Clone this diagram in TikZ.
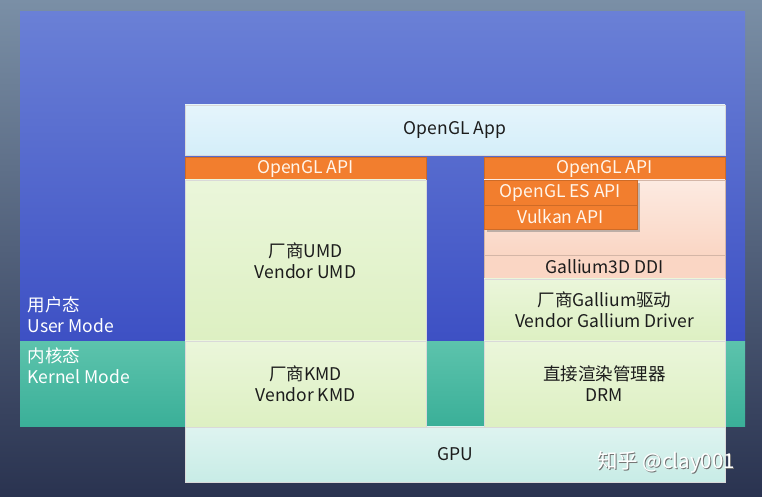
\documentclass[tikz,border=0pt]{standalone}
\usepackage{fontspec}
\setmainfont{Noto Sans CJK SC}
\usetikzlibrary{positioning,shadows}

\definecolor{bgtop}{HTML}{7A8FA6}
\definecolor{bgbot}{HTML}{2A3350}
\definecolor{usertop}{HTML}{6A80D6}
\definecolor{userbot}{HTML}{3D50C4}
\definecolor{kerntop}{HTML}{5CC3AC}
\definecolor{kernbot}{HTML}{3AAF98}
\definecolor{appcol}{HTML}{D4EEF9}
\definecolor{apicol}{HTML}{F27E2E}
\definecolor{drvcol}{HTML}{DDF0C2}
\definecolor{ddicol}{HTML}{FAD6C4}
\definecolor{gpucol}{HTML}{C8ECE6}
\definecolor{txtcol}{HTML}{1C1C1C}

\tikzset{
  layer/.style={draw=white!70!gray, line width=0.6pt, inner sep=0pt,
                text=txtcol, align=center, font=\fontsize{17.5}{21}\selectfont},
  api/.style={layer, fill=apicol, draw=apicol!85!black, text=orange!8!white},
  drv/.style={layer, top color=drvcol!60!white, bottom color=drvcol},
  ddi/.style={layer, fill=ddicol, draw=ddicol!85!black},
  modelbl/.style={text=white, align=left, anchor=north west,
                  font=\fontsize{17.5}{21}\selectfont}
}

\begin{document}
\begin{tikzpicture}[x=1pt,y=1pt]
	% background and the two modes
	\shade[top color=bgtop, bottom color=bgbot] (0,0) rectangle (762,497);
	\shade[top color=usertop, bottom color=userbot] (20,155) rectangle (745,485);
	\shade[top color=kerntop, bottom color=kernbot] (20,70) rectangle (745,155);

	\node[modelbl] (user) at (24,204) {用户态\\User Mode};
	\node[modelbl] (kernel) at (24,153) {内核态\\Kernel Mode};

	% common layers
	\node[layer, top color=appcol!60!white, bottom color=appcol,
		  minimum width=540, minimum height=50] (app) at (455,367) {OpenGL App};
	\node[layer, top color=gpucol!60!white, bottom color=gpucol,
		  minimum width=540, minimum height=55] (gpu) at (455,42.5) {GPU};

	% vendor stack
	\node[api, minimum width=241, minimum height=23] (apiL) at (305.5,328.5) {OpenGL API};
	\node[drv, minimum width=241, minimum height=161] (umd) at (305.5,236.5) {厂商UMD\\Vendor UMD};
	\node[drv, minimum width=241, minimum height=86] (kmd) at (305.5,113) {厂商KMD\\Vendor KMD};

	% mesa stack
	\node[api, minimum width=241, minimum height=23] (apiR) at (604.5,328.5) {OpenGL API};
	\node[ddi, top color=ddicol!50!white, bottom color=ddicol,
		  minimum width=241, minimum height=75] (st) at (604.5,279.5) {};
	\node[api, drop shadow, minimum width=153, minimum height=25] (gles) at (560.5,304.5) {OpenGL ES API};
	\node[api, drop shadow, minimum width=153, minimum height=24] (vk) at (560.5,280) {Vulkan API};
	\node[ddi, minimum width=241, minimum height=24] (ddi) at (604.5,230) {Gallium3D DDI};
	\node[drv, minimum width=241, minimum height=62] (gal) at (604.5,187) {厂商Gallium驱动\\Vendor Gallium Driver};
	\node[drv, minimum width=241, minimum height=86] (drm) at (604.5,113) {直接渲染管理器\\DRM};

	% watermark
	\node[text=black!55, font=\fontsize{20.5}{24}\selectfont] (markshd) at (667.2,34) {知乎 @clay001};
	\node[text=white, font=\fontsize{20.5}{24}\selectfont] (mark) at (666,35) {知乎 @clay001};
\end{tikzpicture}
\end{document}
